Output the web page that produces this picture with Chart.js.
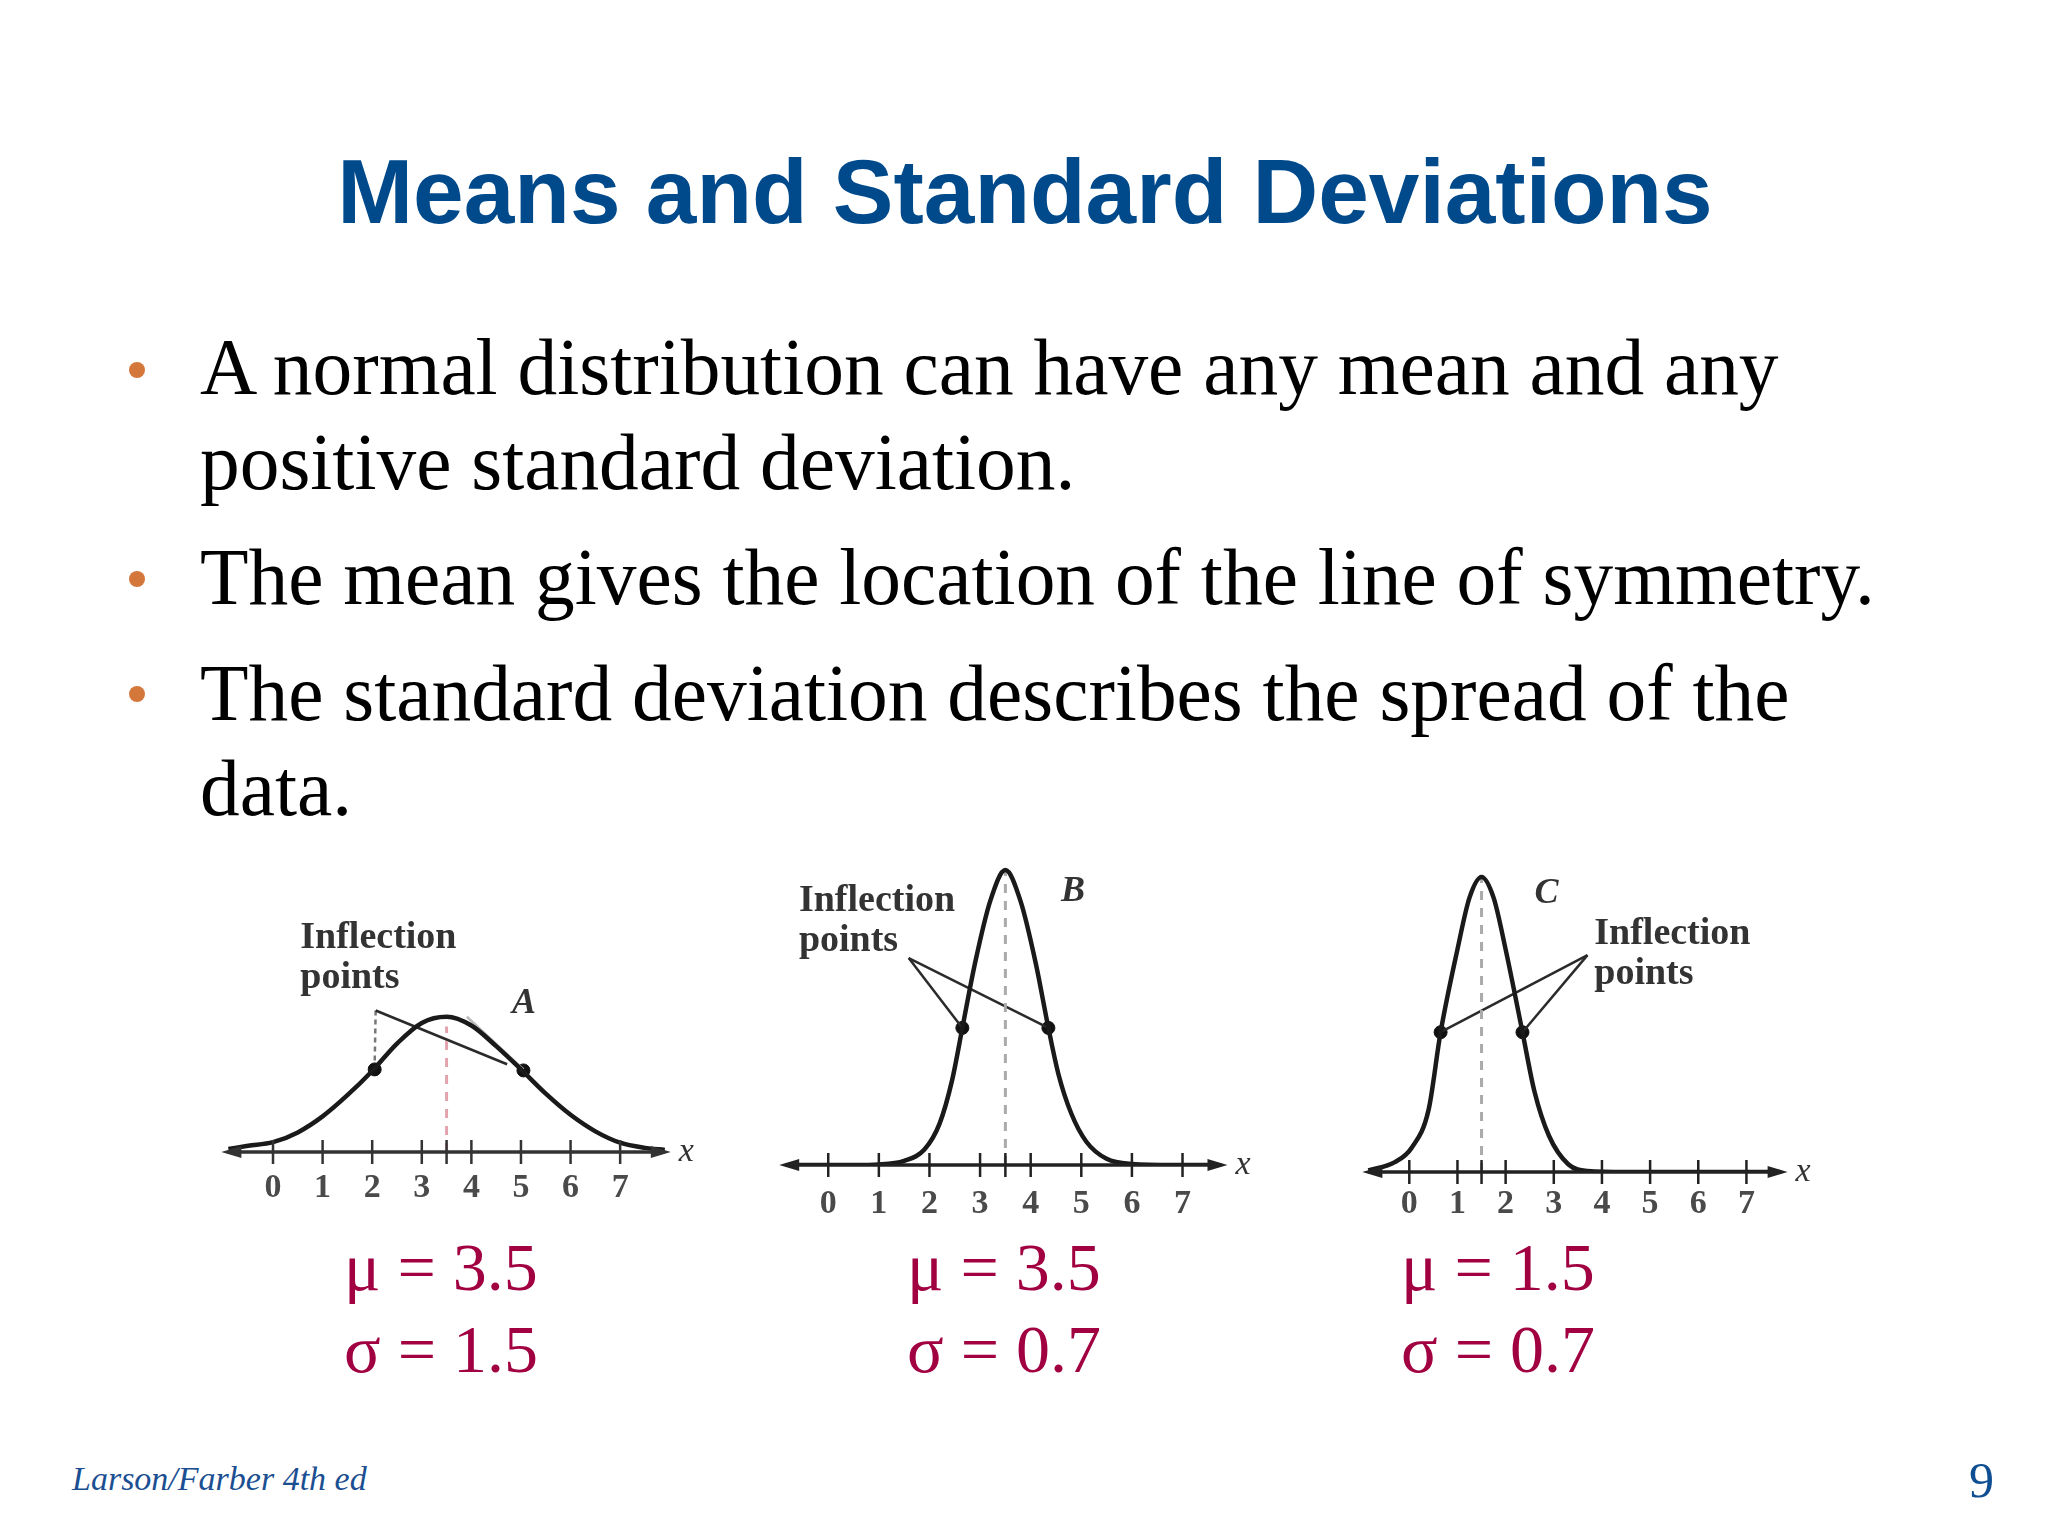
<!DOCTYPE html>
<html>
<head>
<meta charset="utf-8">
<script src="https://cdn.jsdelivr.net/npm/chart.js@4.4.1/dist/chart.umd.min.js"></script>
<style>
  body { margin: 0; width: 2048px; height: 1536px; background: #fff; position: relative; overflow: hidden; }
  .title { position: absolute; left: 0; width: 2050px; top: 146px; text-align: center;
           font: bold 91px/1 "Liberation Sans", Arial, sans-serif; color: #004a8c; }
  .line { position: absolute; left: 200px; font: 79.4px/1 "Liberation Serif", "Times New Roman", serif;
          color: #000; white-space: nowrap; }
  .dot { position: absolute; left: 129px; width: 16px; height: 16px; border-radius: 50%; background: #d4773a; }
  .param { position: absolute; font: 68px/1 "Liberation Serif", "Times New Roman", serif; color: #a10041; white-space: nowrap; }
  .foot { position: absolute; left: 72px; top: 1462px; font: italic 34px/1 "Liberation Serif", serif; color: #1b4f91; }
  .page { position: absolute; left: 1969px; top: 1455px; font: 50px/1 "Liberation Serif", serif; color: #0f4e91; }
  canvas { position: absolute; }
</style>
</head>
<body>
<div class="title">Means and Standard Deviations</div>

<div class="dot" style="top:362px"></div>
<div class="line" style="top:328px">A normal distribution can have any mean and any</div>
<div class="line" style="top:423px">positive standard deviation.</div>
<div class="dot" style="top:571px"></div>
<div class="line" style="top:538px">The mean gives the location of the line of symmetry.</div>
<div class="dot" style="top:686px"></div>
<div class="line" style="top:654px">The standard deviation describes the spread of the</div>
<div class="line" style="top:749px">data.</div>

<canvas id="chartA" width="501" height="352" style="left:206px;top:860px"></canvas>
<canvas id="chartB" width="511" height="380" style="left:760px;top:845px"></canvas>
<canvas id="chartC" width="487" height="382" style="left:1344px;top:850px"></canvas>

<div class="param" id="pA" style="left:344px;top:1233px"></div>
<div class="param" id="sA" style="left:344px;top:1315px"></div>
<div class="param" id="pB" style="left:907px;top:1233px"></div>
<div class="param" id="sB" style="left:907px;top:1315px"></div>
<div class="param" id="pC" style="left:1401px;top:1233px"></div>
<div class="param" id="sC" style="left:1401px;top:1315px"></div>

<div class="foot">Larson/Farber 4th ed</div>
<div class="page">9</div>

<script>
// axis ticks shown under every curve
const xTickValues = [0, 1, 2, 3, 4, 5, 6, 7];

// parameters printed under each panel
const means = [3.5, 3.5, 1.5];
const sigmas = [1.5, 0.7, 0.7];

// curve heights (density units)
const curveAX = [-0.9, -0.5, 0, 0.5, 1, 1.5, 2, 2.5, 3, 3.5, 4, 4.5, 5, 5.5, 6, 6.5, 7, 7.5, 7.9];
const curveAY = [0.006, 0.012, 0.019, 0.038, 0.069, 0.11, 0.157, 0.21, 0.25, 0.262, 0.245, 0.205, 0.16, 0.113, 0.072, 0.04, 0.018, 0.008, 0.004];

const curveBX = [-0.8, 0.5, 1.0, 1.5, 1.9, 2.2, 2.45, 2.65, 2.9, 3.2, 3.5, 3.8, 4.1, 4.35, 4.55, 4.8, 5.1, 5.5, 6.0, 6.8, 7.7];
const curveBY = [0, 0, 0.001, 0.008, 0.03, 0.08, 0.165, 0.265, 0.39, 0.51, 0.57, 0.51, 0.39, 0.265, 0.175, 0.1, 0.045, 0.012, 0.002, 0, 0];

const curveCX = [-0.85, -0.3, 0.05, 0.4, 0.65, 1.0, 1.25, 1.5, 1.75, 2.0, 2.35, 2.6, 2.9, 3.3, 3.7, 4.5, 7.7];
const curveCY = [0.003, 0.019, 0.047, 0.12, 0.27, 0.43, 0.53, 0.57, 0.53, 0.43, 0.27, 0.155, 0.07, 0.015, 0.002, 0, 0];

// inflection points marked with dots
const inflectAX = [2.05, 5.05];
const inflectAY = [0.16, 0.158];
const inflectBX = [2.65, 4.35];
const inflectBY = [0.265, 0.265];
const inflectCX = [0.65, 2.35];
const inflectCY = [0.27, 0.27];

// top of the dashed line at the mean
const meanTopY = [0.243, 0.57, 0.57];

const pts = (xs, ys) => xs.map((v, i) => ({ x: v, y: ys[i] }));

// draws the number line, its ticks and the annotation texts
const axisDecor = {
  id: 'axisDecor',
  afterDatasetsDraw(chart, args, o) {
    const { ctx, scales: { x, y } } = chart;
    const y0 = y.getPixelForValue(0);
    const xl = x.getPixelForValue(o.axisFrom);
    const xr = x.getPixelForValue(o.axisTo);
    ctx.save();
    ctx.strokeStyle = o.axisColor;
    ctx.fillStyle = o.axisColor;
    ctx.lineWidth = 3.5;
    ctx.beginPath(); ctx.moveTo(xl, y0); ctx.lineTo(xr, y0); ctx.stroke();
    [[xr, 1], [xl, -1]].forEach(([px, d]) => {
      ctx.beginPath();
      ctx.moveTo(px + d * 6, y0);
      ctx.lineTo(px - d * 14, y0 - 6);
      ctx.lineTo(px - d * 14, y0 + 6);
      ctx.closePath(); ctx.fill();
    });
    ctx.lineWidth = 2.5;
    x.ticks.map(t => t.value).concat([o.mean]).forEach(v => {
      const px = x.getPixelForValue(v);
      ctx.beginPath(); ctx.moveTo(px, y0 - 12); ctx.lineTo(px, y0 + 12); ctx.stroke();
    });
    ctx.fillStyle = '#333';
    ctx.font = 'italic 34px "Liberation Serif", serif';
    ctx.textBaseline = 'middle';
    ctx.fillText('x', xr + 14, y0);
    ctx.font = 'italic bold 36px "Liberation Serif", serif';
    ctx.textBaseline = 'alphabetic';
    ctx.fillText(o.letter, x.getPixelForValue(o.letterAt[0]), y.getPixelForValue(o.letterAt[1]));
    ctx.font = 'bold 38px "Liberation Serif", serif';
    const lx = x.getPixelForValue(o.labelAt[0]);
    const ly = y.getPixelForValue(o.labelAt[1]);
    ctx.fillText('Inflection', lx, ly);
    ctx.fillText('points', lx, ly + 40);
    ctx.restore();
  }
};

function makePanel(id, i, xs, ys, ix, iy, ymax, pad, deco, pointers) {
  const datasets = [
    { data: pts(xs, ys), borderColor: '#1a1a1a', borderWidth: 4.5, pointRadius: 0,
      cubicInterpolationMode: 'monotone' },
    { data: [{ x: means[i], y: 0 }, { x: means[i], y: meanTopY[i] }], borderColor: deco.dashColor,
      borderWidth: 3, borderDash: [9, 8], pointRadius: 0 }
  ];
  pointers.forEach(p => datasets.push({
    data: [{ x: p[0], y: p[1] }, { x: p[2], y: p[3] }], borderColor: p[4] || '#2a2a2a',
    borderWidth: 2.5, pointRadius: 0, borderDash: p[5] || []
  }));
  datasets.push({ data: pts(ix, iy), showLine: false, pointRadius: 6.5,
    pointBackgroundColor: '#111', pointBorderColor: '#111' });

  document.getElementById('p' + 'ABC'[i]).textContent = 'μ = ' + means[i];
  document.getElementById('s' + 'ABC'[i]).textContent = 'σ = ' + sigmas[i];

  return new Chart(document.getElementById(id), {
    type: 'line',
    data: { datasets },
    plugins: [axisDecor],
    options: {
      responsive: false,
      animation: false,
      events: [],
      layout: { padding: 0 },
      plugins: { legend: { display: false }, tooltip: { enabled: false }, axisDecor: deco },
      scales: {
        x: {
          type: 'linear', min: -1.2, max: 8.6,
          afterBuildTicks: s => { s.ticks = xTickValues.map(v => ({ value: v })); },
          afterFit: s => { s.height = 60; },
          grid: { display: false, drawTicks: false },
          border: { display: false },
          ticks: { padding: pad, color: '#4a4a4a', font: { family: '"Liberation Serif", serif', size: 34, weight: 'bold' } }
        },
        y: { display: false, min: 0, max: ymax }
      }
    }
  });
}

makePanel('chartA', 0, curveAX, curveAY, inflectAX, inflectAY, 0.551, 16,
  { axisFrom: -0.92, axisTo: 7.9, axisColor: '#333', mean: means[0], letter: 'A',
    letterAt: [4.82, 0.27], labelAt: [0.55, 0.396], dashColor: '#e3a3ad' },
  [[2.07, 0.274, 4.72, 0.17], [2.07, 0.274, 2.05, 0.17, '#777', [5, 4]], [3.91, 0.262, 5.05, 0.16, '#bbb']]);

makePanel('chartB', 1, curveBX, curveBY, inflectBX, inflectBY, 0.604, 19,
  { axisFrom: -0.85, axisTo: 7.77, axisColor: '#222', mean: means[1], letter: 'B',
    letterAt: [4.6, 0.51], labelAt: [-0.58, 0.49], dashColor: '#aaa' },
  [[1.59, 0.40, 2.65, 0.265], [1.59, 0.40, 4.35, 0.265]]);

makePanel('chartC', 2, curveCX, curveCY, inflectCX, inflectCY, 0.6075, 12,
  { axisFrom: -0.85, axisTo: 7.73, axisColor: '#222', mean: means[2], letter: 'C',
    letterAt: [2.6, 0.52], labelAt: [3.84, 0.44], dashColor: '#aaa' },
  [[3.70, 0.419, 0.65, 0.27], [3.70, 0.419, 2.35, 0.27]]);
</script>
</body>
</html>
